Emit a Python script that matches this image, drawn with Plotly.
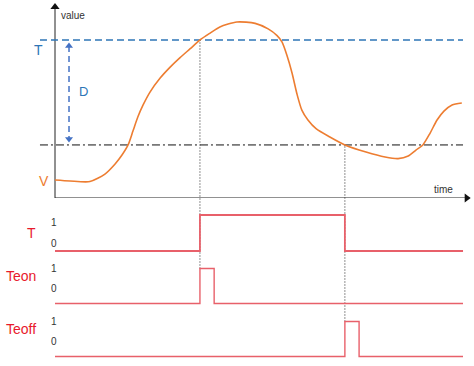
import plotly.graph_objects as go

# ---------------- data ----------------
# input signal (time, value)
curve_t = [0, 3.7, 8.6, 12.3, 14.8, 16.5, 18.0, 19.2, 20.4, 21.7, 23.4, 25.9, 28.3, 30.8,
           33.3, 35.7, 38.2, 40.6, 44.8, 49.3, 52.5, 54.7, 55.9, 57.1, 58.4, 59.6, 60.8,
           62.3, 64.3, 67.7, 71.4, 76.6, 81.3, 84.5, 87.0, 88.9, 90.6, 92.4, 94.1, 95.8,
           97.8, 100.2]
curve_v = [9.1, 8.6, 8.3, 12.1, 17.2, 21.7, 26.8, 33.8, 40.9, 47.0, 53.5, 60.6, 66.0, 70.9,
           75.4, 79.8, 83.3, 86.4, 88.9, 88.2, 85.4, 82.0, 78.8, 72.2, 63.0, 52.5, 44.4,
           39.4, 35.0, 30.8, 26.8, 23.2, 20.7, 19.9, 21.2, 24.2, 26.8, 32.8, 39.4, 43.9,
           47.0, 48.0]
threshold_T = 79.8        # upper threshold
threshold_low = 26.8      # T - D
t_on = 35.7               # curve crosses T
t_off = 71.4              # curve crosses T - D
pulse_w = 3.5             # one-shot pulse width
t_end = 100.5

# digital signals (step traces)
sig_T_t = [0, t_on, t_on, t_off, t_off, t_end]
sig_T_v = [0, 0, 1, 1, 0, 0]
sig_on_t = [0, t_on, t_on, t_on + pulse_w, t_on + pulse_w, t_end]
sig_on_v = [0, 0, 1, 1, 0, 0]
sig_off_t = [0, t_off, t_off, t_off + pulse_w, t_off + pulse_w, t_end]
sig_off_v = [0, 0, 1, 1, 0, 0]

panel_names = ["T", "Teon", "Teoff"]
level_labels = ["1", "0"]

# ---------------- layout helpers ----------------
W, H = 474, 366
X0PX, PXT = 55, 4.06                       # pixel of t=0, pixels per time unit
XR = [-X0PX / PXT, (W - X0PX) / PXT]

def pdom(top_px, bot_px):
    return [(H - bot_px) / H, (H - top_px) / H]

top_dom = pdom(0, 198)
top_rng = [0, 100]
pan_doms = [pdom(206, 260), pdom(259.75, 312.25), pdom(312.75, 365.25)]
pan_rng = [-0.25, 1.25]

def to_paper(v, dom, rng):
    return dom[0] + (v - rng[0]) / (rng[1] - rng[0]) * (dom[1] - dom[0])

ORANGE = "#ED7D31"
BLUE = "#2E75B6"
DBLUE = "#4472C4"
RED_LINE = "#E8606A"
RED_TXT = "#E8192C"
DARK = "#333333"

fig = go.Figure()

# axes of top panel
fig.add_trace(go.Scatter(x=[0, 0], y=[0, 96], mode="lines", line=dict(color="#222", width=1),
                         xaxis="x", yaxis="y", hoverinfo="skip"))
fig.add_trace(go.Scatter(x=[0, 101], y=[0, 0], mode="lines", line=dict(color="#222", width=1),
                         xaxis="x", yaxis="y", hoverinfo="skip"))
fig.add_trace(go.Scatter(x=[0], y=[96.5], mode="markers",
                         marker=dict(symbol="triangle-up", size=8, color="#111"),
                         xaxis="x", yaxis="y", hoverinfo="skip"))
fig.add_trace(go.Scatter(x=[101.4], y=[0], mode="markers",
                         marker=dict(symbol="triangle-right", size=8, color="#111"),
                         xaxis="x", yaxis="y", hoverinfo="skip", cliponaxis=False))

# thresholds
fig.add_trace(go.Scatter(x=[-3.7, t_end], y=[threshold_T] * 2, mode="lines",
                         line=dict(color=BLUE, width=1.5, dash="7px,4px"),
                         xaxis="x", yaxis="y", hoverinfo="skip"))
fig.add_trace(go.Scatter(x=[-3.7, t_end], y=[threshold_low] * 2, mode="lines",
                         line=dict(color="#111", width=1, dash="8px,3px,2px,3px"),
                         xaxis="x", yaxis="y", hoverinfo="skip"))

# D arrow
d_t = 3.45
fig.add_trace(go.Scatter(x=[d_t, d_t], y=[threshold_T - 3, threshold_low + 3], mode="lines",
                         line=dict(color=DBLUE, width=1.5, dash="6px,4px"),
                         xaxis="x", yaxis="y", hoverinfo="skip"))
fig.add_trace(go.Scatter(x=[d_t, d_t], y=[threshold_T - 3, threshold_low + 3], mode="markers",
                         marker=dict(symbol=["triangle-up", "triangle-down"], size=7, color=DBLUE),
                         xaxis="x", yaxis="y", hoverinfo="skip"))

# signal curve
fig.add_trace(go.Scatter(x=curve_t, y=curve_v, mode="lines",
                         line=dict(color=ORANGE, width=1.6, shape="spline", smoothing=0.7),
                         xaxis="x", yaxis="y", hoverinfo="skip"))

# digital panels
sigs = [(sig_T_t, sig_T_v), (sig_on_t, sig_on_v), (sig_off_t, sig_off_v)]
for i, (st, sv) in enumerate(sigs):
    fig.add_trace(go.Scatter(x=st, y=sv, mode="lines",
                             line=dict(color=RED_LINE, width=1.8 if i == 0 else 1.4),
                             xaxis="x%d" % (i + 2), yaxis="y%d" % (i + 2), hoverinfo="skip"))

# dotted guide lines
shapes = []
for tx, v, panel in [(t_on, threshold_T, 1), (t_off, threshold_low, 2)]:
    y_top = to_paper(v, top_dom, top_rng)
    y_bot = to_paper(1, pan_doms[panel], pan_rng)
    shapes.append(dict(type="line", xref="x", yref="paper", x0=tx, x1=tx, y0=y_bot, y1=y_top,
                       line=dict(color="#222", width=1, dash="1px,2px"), layer="below"))

ann = []
F = "Arial, Liberation Sans, sans-serif"
ann.append(dict(x=1.0, y=92.4, xref="x", yref="y", text="value", showarrow=False,
                xanchor="left", font=dict(family=F, size=10, color=DARK)))
ann.append(dict(x=95.8, y=4.2, xref="x", yref="y", text="time", showarrow=False,
                font=dict(family=F, size=10, color=DARK)))
ann.append(dict(x=32 / W, y=to_paper(threshold_T, top_dom, top_rng), xref="paper", yref="paper",
                text="T", showarrow=False, font=dict(family=F, size=14, color=BLUE)))
ann.append(dict(x=5.4, y=(threshold_T + threshold_low) / 2 + 0.5, xref="x", yref="y", text="D",
                showarrow=False, xanchor="left", font=dict(family=F, size=13, color=BLUE)))
ann.append(dict(x=51 / W, y=to_paper(curve_v[0] - 0.5, top_dom, top_rng), xref="paper", yref="paper",
                text="V", showarrow=False, xanchor="right",
                font=dict(family=F, size=14, color=ORANGE)))
for i, name in enumerate(panel_names):
    dom = pan_doms[i]
    ann.append(dict(x=38 / W, y=to_paper(0.5, dom, pan_rng), xref="paper", yref="paper",
                    text=name, showarrow=False, xanchor="right",
                    font=dict(family=F, size=14, color=RED_TXT)))
    for lab, lv in zip(level_labels, [0.78, 0.22]):
        ann.append(dict(x=49 / W, y=to_paper(lv, dom, pan_rng), xref="paper", yref="paper",
                        text=lab, showarrow=False, font=dict(family=F, size=10, color=DARK)))

ax_common = dict(visible=False, range=XR, domain=[0, 1], fixedrange=True)
layout = dict(
    width=W, height=H, margin=dict(l=0, r=0, t=0, b=0),
    paper_bgcolor="white", plot_bgcolor="rgba(0,0,0,0)", showlegend=False,
    xaxis=dict(ax_common, anchor="y"),
    yaxis=dict(visible=False, range=top_rng, domain=top_dom, anchor="x"),
    shapes=shapes, annotations=ann,
)
for i in range(3):
    layout["xaxis%d" % (i + 2)] = dict(ax_common, anchor="y%d" % (i + 2))
    layout["yaxis%d" % (i + 2)] = dict(visible=False, range=pan_rng, domain=pan_doms[i],
                                       anchor="x%d" % (i + 2))
fig.update_layout(**layout)
fig.write_html("out.html", config={"displayModeBar": False})
